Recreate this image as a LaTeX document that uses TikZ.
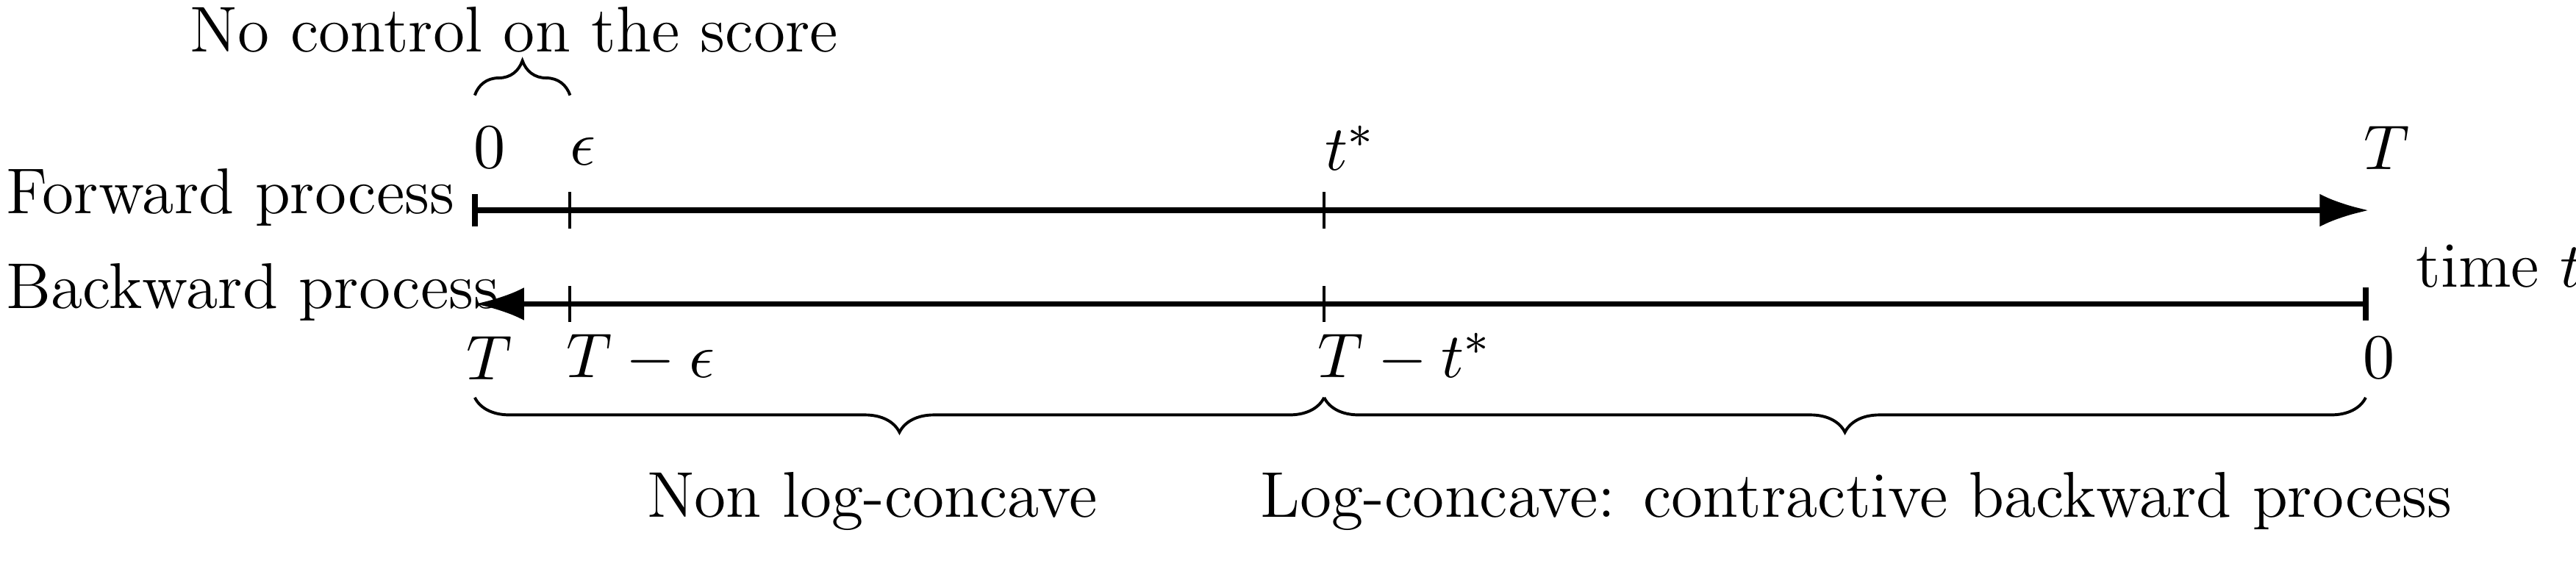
\documentclass[tikz,border=0pt]{standalone}
\usetikzlibrary{arrows.meta,decorations.pathreplacing}
\begin{document}
\begin{tikzpicture}[x=0.01cm,y=-0.01cm,
  axis/.style={line width=1pt},
  tick/.style={line width=0.5pt},
  brace/.style={decorate,decoration={brace,amplitude=6pt},line width=0.5pt},
  lbl/.style={inner sep=0pt,font=\fontsize{11.2}{13}\selectfont}]
\useasboundingbox (0,0) rectangle (1568,353);
\coordinate (f0) at (289,128); \coordinate (fe) at (347,128);
\coordinate (fs) at (806,128); \coordinate (fT) at (1442,128);
\coordinate (b0) at (289,185); \coordinate (be) at (347,185);
\coordinate (bs) at (806,185); \coordinate (bT) at (1440,185);
\draw[axis,-{Latex[length=0.3cm,width=0.2cm]}] (f0) -- (fT);
\draw[axis,-{Latex[length=0.3cm,width=0.2cm]}] (bT) -- (b0);
\draw[axis] ([yshift=-0.1cm]f0) -- ([yshift=0.1cm]f0);
\draw[axis] ([yshift=-0.1cm]bT) -- ([yshift=0.1cm]bT);
\foreach \c in {fe,fs,be,bs}{\draw[tick] ([yshift=-0.11cm]\c) -- ([yshift=0.11cm]\c);}
\node[lbl] (l0) at (298,90) {$0$};
\node[lbl] (le) at (355,92) {$\epsilon$};
\node[lbl] (ls) at (822,90) {$t^*$};
\node[lbl] (lT) at (1453,90) {$T$};
\node[lbl] (m0) at (298,218) {$T$};
\node[lbl] (me) at (390,218) {$T-\epsilon$};
\node[lbl] (ms) at (855,218) {$T-t^*$};
\node[lbl] (mT) at (1448,218) {$0$};
\node[lbl,anchor=west] (fw) at (3,120) {Forward process};
\node[lbl,anchor=west] (bw) at (3,178) {Backward process};
\node[lbl,anchor=west] (tt) at (1470,162) {time $t$};
\draw[brace] (289,58) -- (347,58);
\node[lbl] (nc) at (313,18) {No control on the score};
\draw[brace,decoration={mirror}] (289,242) -- (806,242);
\draw[brace,decoration={mirror}] (806,242) -- (1440,242);
\node[lbl] (nlc) at (531,305) {Non log-concave};
\node[lbl] (lc) at (1130,305) {Log-concave: contractive backward process};
\end{tikzpicture}
\end{document}
